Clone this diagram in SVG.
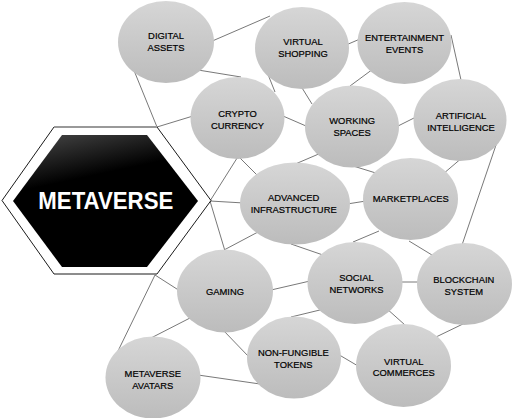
<svg xmlns="http://www.w3.org/2000/svg" width="512" height="418" viewBox="0 0 512 418">
<defs>
<linearGradient id="eg" x1="0" y1="0" x2="0" y2="1">
<stop offset="0" stop-color="#d6d6d6"/>
<stop offset="1" stop-color="#bcbcbc"/>
</linearGradient>
<linearGradient id="hg" x1="0" y1="0" x2="0.3" y2="1">
<stop offset="0" stop-color="#4a4a4a"/>
<stop offset="0.4" stop-color="#000"/>
<stop offset="1" stop-color="#000"/>
</linearGradient>
<style>
.n ellipse{fill:url(#eg);stroke:none}
.n text{font-family:"Liberation Sans",Arial,sans-serif;font-size:9.4px;fill:#000;stroke:#000;stroke-width:0.2;text-anchor:middle}
#connectors line{stroke:#555;stroke-width:0.8}
</style>
</defs>
<rect width="512" height="418" fill="#fff"/>
<g id="connectors">
<line x1="210" y1="42" x2="270" y2="16"/>
<line x1="198" y1="70" x2="241" y2="77"/>
<line x1="133" y1="68" x2="157" y2="127"/>
<line x1="157" y1="127" x2="193" y2="116"/>
<line x1="267" y1="72" x2="275" y2="92"/>
<line x1="283" y1="116" x2="306" y2="126"/>
<line x1="299" y1="83" x2="312" y2="104"/>
<line x1="346" y1="45" x2="360" y2="39"/>
<line x1="350" y1="86" x2="373" y2="69"/>
<line x1="451" y1="35" x2="461" y2="80"/>
<line x1="396" y1="127" x2="416" y2="117"/>
<line x1="239" y1="155" x2="210" y2="201"/>
<line x1="238" y1="156" x2="259" y2="177"/>
<line x1="210" y1="201" x2="244" y2="203"/>
<line x1="210" y1="201" x2="225" y2="251"/>
<line x1="224" y1="250" x2="258" y2="232"/>
<line x1="293" y1="165" x2="321" y2="153"/>
<line x1="347" y1="204" x2="366" y2="201"/>
<line x1="291" y1="244" x2="323" y2="255"/>
<line x1="350" y1="165" x2="379" y2="174"/>
<line x1="443" y1="174" x2="463" y2="157"/>
<line x1="496" y1="145" x2="462" y2="245"/>
<line x1="353" y1="242" x2="379" y2="231"/>
<line x1="409" y1="241" x2="432" y2="255"/>
<line x1="400" y1="282" x2="420" y2="282"/>
<line x1="386" y1="308" x2="405" y2="325"/>
<line x1="436" y1="337" x2="465" y2="323"/>
<line x1="271" y1="290" x2="310" y2="281"/>
<line x1="291" y1="317" x2="324" y2="309"/>
<line x1="336" y1="353" x2="358" y2="366"/>
<line x1="223" y1="330" x2="249" y2="357"/>
<line x1="190" y1="318" x2="151" y2="338"/>
<line x1="155" y1="275" x2="180" y2="291"/>
<line x1="155" y1="275" x2="118" y2="351"/>
<line x1="198" y1="375" x2="260" y2="384"/>
</g>
<g id="metaverse">
<polygon points="2,200.5 54,127 157,127 211,200.5 157,274 54,274" fill="#fff" stroke="#000" stroke-width="0.9"/>
<line x1="54" y1="127" x2="157" y2="127" stroke="#999" stroke-width="2"/>
<polygon points="13,201 62,135 147,135 198,201 147,267 62,267" fill="url(#hg)"/>
<text x="105.8" y="209.3" font-family="Liberation Sans,Arial,sans-serif" font-weight="bold" font-size="23" fill="#fff" text-anchor="middle" textLength="135" lengthAdjust="spacingAndGlyphs">METAVERSE</text>
</g>
<g id="digital-assets" class="n"><ellipse cx="166" cy="42" rx="48" ry="41"/><text x="166" y="39.4">DIGITAL</text><text x="166" y="51">ASSETS</text></g>
<g id="virtual-shopping" class="n"><ellipse cx="302" cy="48" rx="47" ry="41"/><text x="303" y="45.3">VIRTUAL</text><text x="303" y="57">SHOPPING</text></g>
<g id="entertainment-events" class="n"><ellipse cx="404.5" cy="43" rx="47" ry="41"/><text x="404.5" y="41.3">ENTERTAINMENT</text><text x="404.5" y="53">EVENTS</text></g>
<g id="crypto-currency" class="n"><ellipse cx="237.5" cy="118" rx="47" ry="41"/><text x="237.5" y="117">CRYPTO</text><text x="237.5" y="128.7">CURRENCY</text></g>
<g id="working-spaces" class="n"><ellipse cx="352" cy="126.5" rx="47" ry="41"/><text x="352.2" y="124.2">WORKING</text><text x="352.2" y="136">SPACES</text></g>
<g id="artificial-intelligence" class="n"><ellipse cx="460" cy="120" rx="46.5" ry="41"/><text x="461" y="119.2">ARTIFICIAL</text><text x="461" y="131">INTELLIGENCE</text></g>
<g id="advanced-infrastructure" class="n"><ellipse cx="295" cy="203.5" rx="55" ry="41"/><text x="293.7" y="201.3">ADVANCED</text><text x="293.7" y="213">INFRASTRUCTURE</text></g>
<g id="marketplaces" class="n"><ellipse cx="410.5" cy="199" rx="47.5" ry="41"/><text x="410.8" y="201.8">MARKETPLACES</text></g>
<g id="gaming" class="n"><ellipse cx="225" cy="291" rx="48" ry="41.5"/><text x="225" y="294.6">GAMING</text></g>
<g id="social-networks" class="n"><ellipse cx="355" cy="283" rx="47.5" ry="41"/><text x="356.5" y="281.2">SOCIAL</text><text x="356.5" y="293">NETWORKS</text></g>
<g id="blockchain-system" class="n"><ellipse cx="464.5" cy="284" rx="47.5" ry="41"/><text x="463.8" y="283">BLOCKCHAIN</text><text x="463.8" y="294.7">SYSTEM</text></g>
<g id="non-fungible-tokens" class="n"><ellipse cx="294" cy="357.5" rx="47" ry="41"/><text x="293.3" y="356.3">NON-FUNGIBLE</text><text x="293.3" y="368">TOKENS</text></g>
<g id="virtual-commerces" class="n"><ellipse cx="403.5" cy="365.5" rx="47.5" ry="41.5"/><text x="403.8" y="364.5">VIRTUAL</text><text x="403.8" y="376.3">COMMERCES</text></g>
<g id="metaverse-avatars" class="n"><ellipse cx="153" cy="377.5" rx="47.5" ry="41"/><text x="152.8" y="377.2">METAVERSE</text><text x="152.8" y="389">AVATARS</text></g>
</svg>
